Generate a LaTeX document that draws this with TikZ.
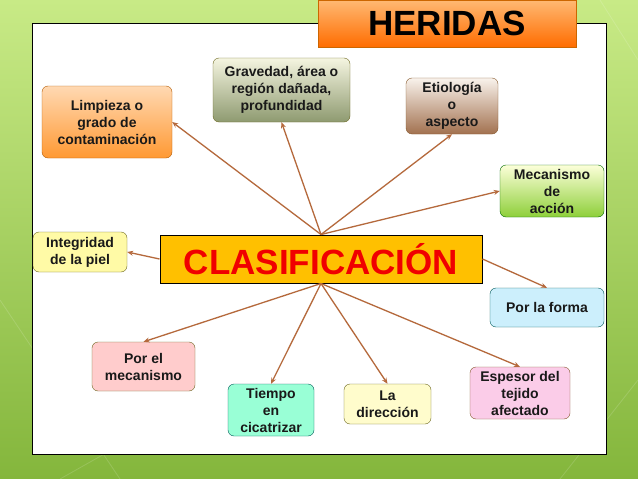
\documentclass[tikz,border=0pt]{standalone}
\usepackage{fontspec}
\setmainfont{Liberation Sans}
\usetikzlibrary{arrows.meta}
\definecolor{vdclaro}{HTML}{C8EA86}
\definecolor{vdoscuro}{HTML}{84B63C}
\definecolor{cafe}{HTML}{B5693C}
\definecolor{ffc000}{HTML}{FFC000}
\definecolor{rojo}{HTML}{F00000}
\definecolor{gravbajo}{HTML}{8E9A70}
\definecolor{etiobajo}{HTML}{A2714F}
\definecolor{mecabajo}{HTML}{8ECF3A}

\tikzset{
	caja/.style={draw=#1!70!black, rounded corners=6pt, align=center, inner sep=1pt,
		font=\fontsize{14}{17}\selectfont\bfseries, text=black!90},
	caja/.default=gray,
	flecha/.style={draw=cafe, line width=1.3pt, -{Stealth[length=6pt,width=5pt]}}
}

\begin{document}
\begin{tikzpicture}[x=1pt,y=-1pt]
		\useasboundingbox (0,0) rectangle (638,479);
		% fondo
		\shade[top color=vdclaro, bottom color=vdoscuro] (0,0) rectangle (638,479);
		\draw[white, opacity=0.15, line width=0.8pt] (0,300) -- (120,479) (60,479) -- (200,400) (560,479) -- (638,380) (600,0) -- (638,60);
		\draw[black, line width=1pt, fill=white] (32,23) rectangle (606,454);
		% titulo
		\node[top color=orange!55, bottom color=orange!85!red, draw=orange!80!black, minimum width=258, minimum height=47,
			font=\fontsize{35}{35}\selectfont\bfseries] (heridas) at (447,23.5) {HERIDAS};
		% cajas
		\node[caja=olive, top color=olive!8, bottom color=gravbajo, minimum width=137, minimum height=64] (grav) at (281.5,90) {Gravedad, área o\\región dañada,\\profundidad};
		\node[caja=brown, top color=brown!10, bottom color=etiobajo, minimum width=92, minimum height=56] (etio) at (452,106) {Etiología\\o\\aspecto};
		\node[caja=orange, top color=orange!30, bottom color=orange!80, minimum width=130, minimum height=72] (limp) at (107,122) {Limpieza o\\grado de\\contaminación};
		\node[caja=green!60!black, top color=green!8!yellow!15, bottom color=mecabajo, minimum width=104, minimum height=52] (meca) at (552,191) {Mecanismo\\de\\acción};
		\node[caja=olive, fill=yellow!35, minimum width=94, minimum height=40] (integ) at (80,252) {Integridad\\de la piel};
		\node[draw=black, fill=ffc000, line width=1pt, minimum width=322, minimum height=48, inner sep=0pt,
			text=rojo, font=\fontsize{35}{35}\selectfont\bfseries] (clas) at (321,259) {CLASIFICACIÓN};
		\node[caja=teal, fill=cyan!20, minimum width=114, minimum height=39] (forma) at (547,307.5) {Por la forma};
		\node[caja=olive, fill=red!20, minimum width=103, minimum height=49] (mec) at (143.5,366.5) {Por el\\mecanismo};
		\node[caja=teal, fill=green!40!cyan!40, minimum width=86, minimum height=52] (tiempo) at (271,410) {Tiempo\\en\\cicatrizar};
		\node[caja=olive, fill=yellow!20, minimum width=87, minimum height=40] (dir) at (387.5,404) {La\\dirección};
		\node[caja=brown, fill=magenta!20, minimum width=100, minimum height=52] (esp) at (520,393) {Espesor del\\tejido\\afectado};
		% flechas
		\draw[flecha] (clas.north) -- (limp.east);
		\draw[flecha] (clas.north) -- (grav.south);
		\draw[flecha] (clas.north) -- (etio.south);
		\draw[flecha] (clas.north) -- (meca.west);
		\draw[flecha] (clas.west) -- (integ.east);
		\draw[flecha] (clas.east) -- (forma.north);
		\draw[flecha] (clas.south) -- (mec.north);
		\draw[flecha] (clas.south) -- (tiempo.north);
		\draw[flecha] (clas.south) -- (dir.north);
		\draw[flecha] (clas.south) -- (esp.north);
		\end{tikzpicture}
\end{document}
